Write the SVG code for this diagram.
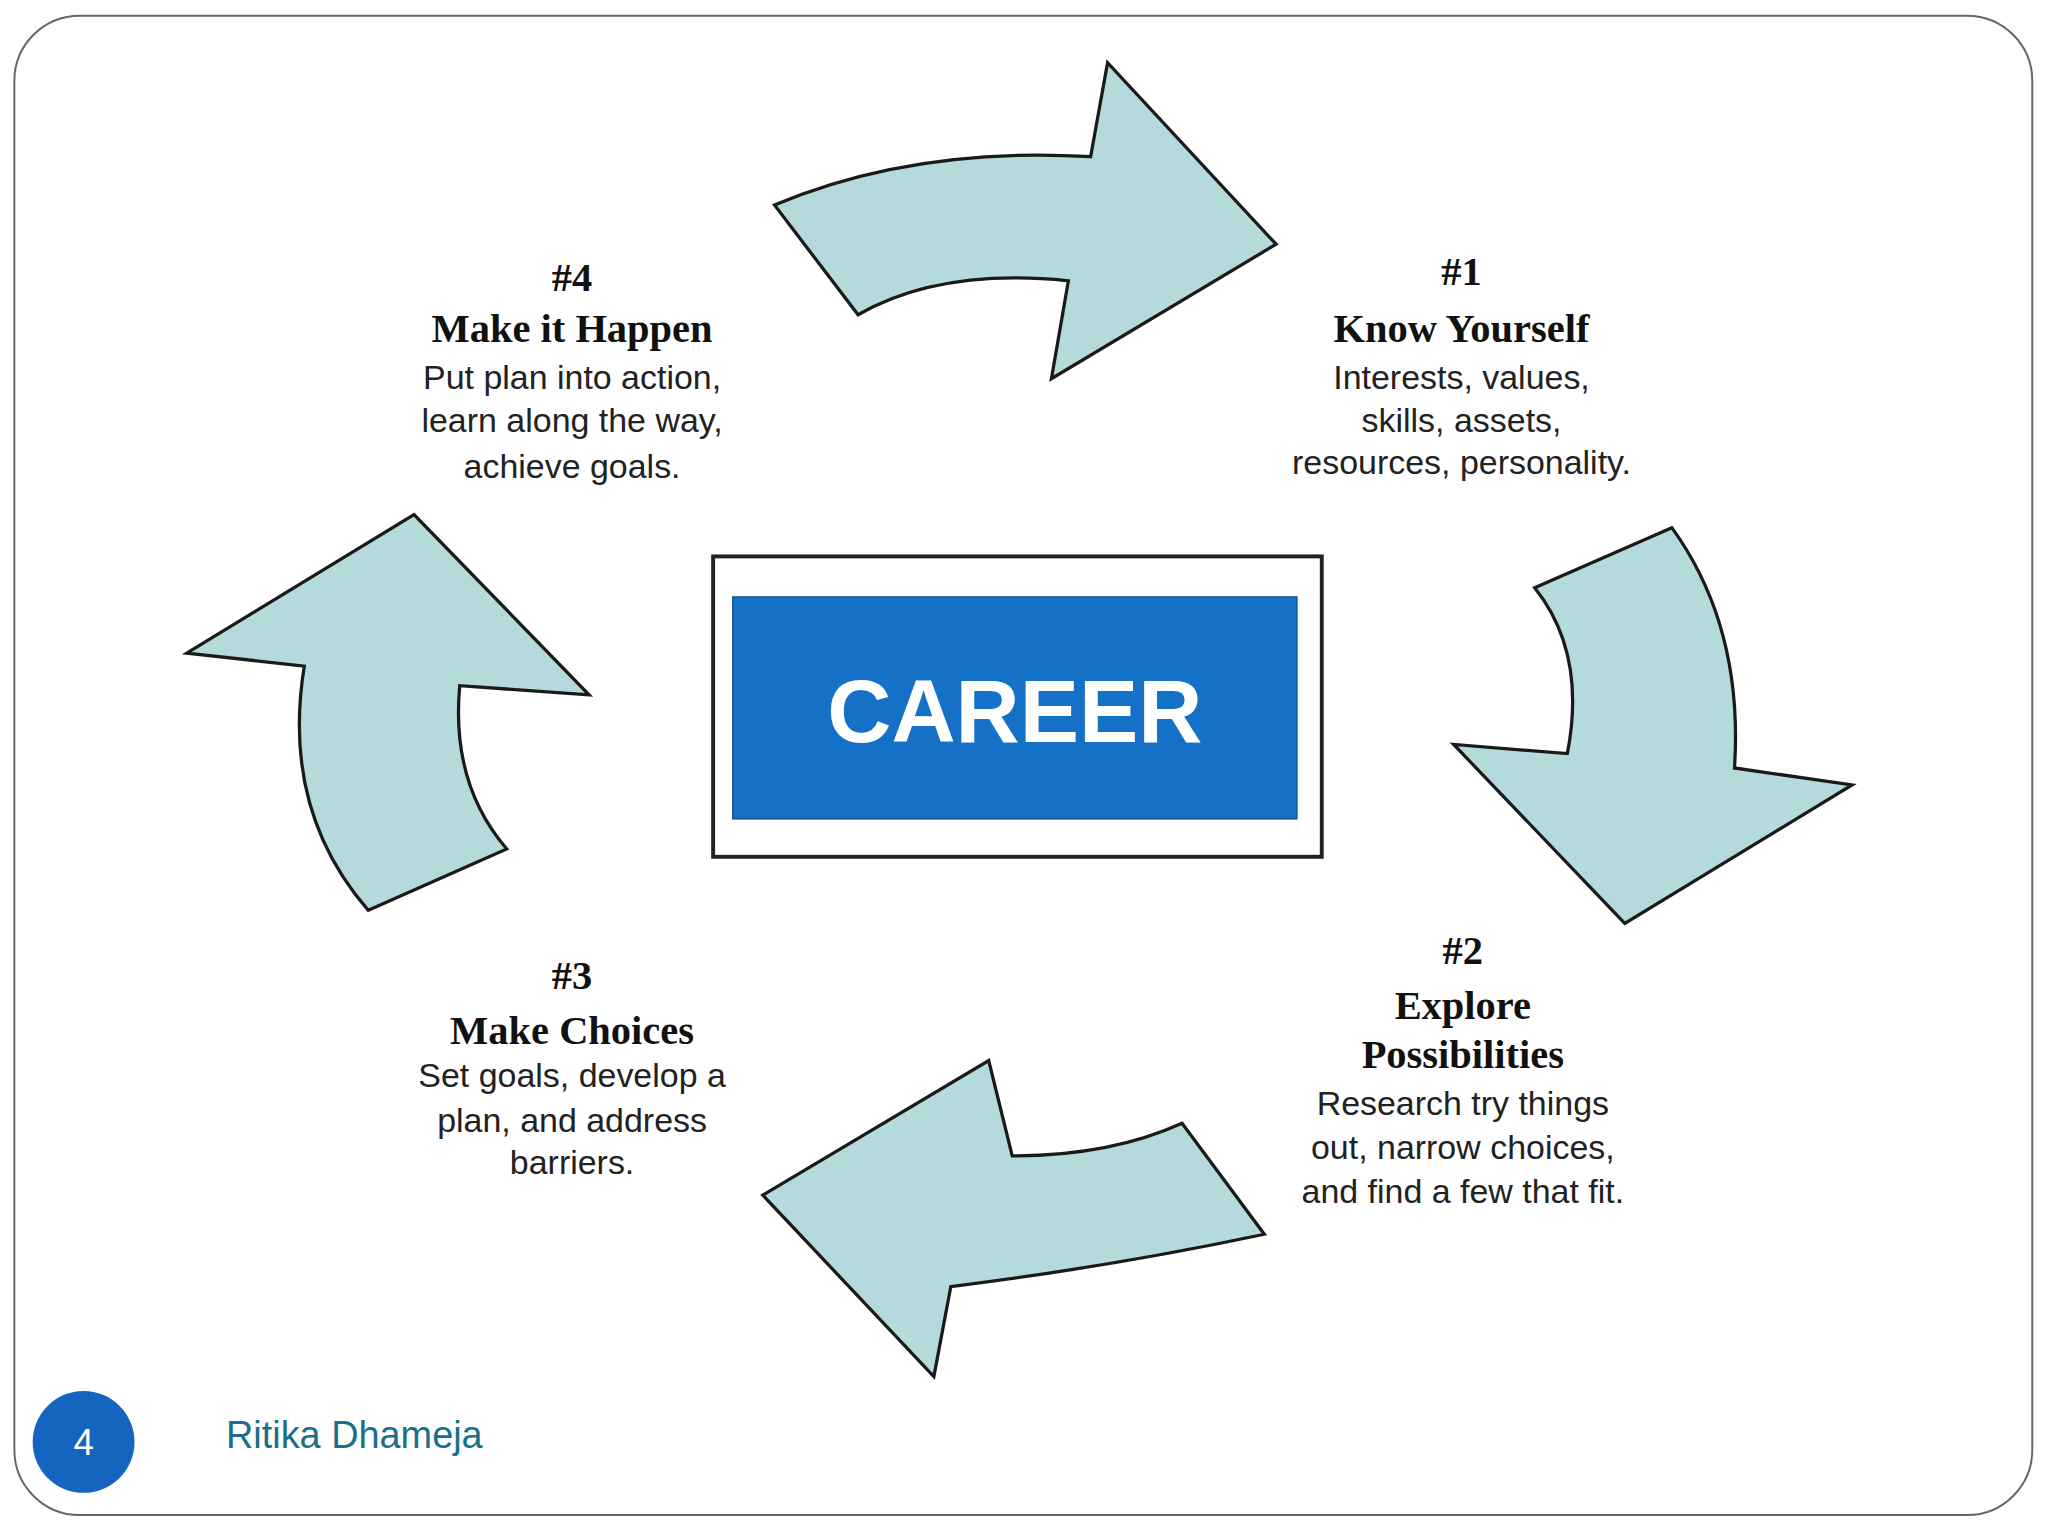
<svg xmlns="http://www.w3.org/2000/svg" width="2048" height="1536" viewBox="0 0 2048 1536">
<style>
.ar{fill:#b5dadc;stroke:#1a1a1a;stroke-width:2.5;stroke-linejoin:miter}
.h{font-family:"Liberation Serif",serif;font-weight:bold;font-size:31px;fill:#111;text-anchor:middle}
.b{font-family:"Liberation Sans",Arial,sans-serif;font-size:26px;fill:#222;text-anchor:middle}
</style>
<rect width="2048" height="1536" fill="#fff"/>
<g transform="scale(1.3061)">
<rect x="11" y="12" width="1545" height="1148" rx="50" fill="none" stroke="#666" stroke-width="1.5"/>
<g id="connectors">
<path class="ar" d="M593,157 Q700,112 835,120 L848,48 L977,187 L805,290 L818,215 Q720,205 657,241 Z"/>
<path class="ar" d="M1175,450 L1280,404 Q1335,480 1328,588 L1418,601 L1244,707 L1113,570 L1200,577 Q1215,500 1175,450 Z"/>
<path class="ar" d="M905,860 L968,945 Q850,970 728,985 L715,1054 L584,915 L757,812 L775,885 Q850,885 905,860 Z"/>
<path class="ar" d="M282,697 L388,650 Q345,600 352,525 L451,532 L317,394 L143,500 L233,510 Q215,620 282,697 Z"/>
</g>
<g id="career">
<rect x="546" y="426" width="466" height="230" fill="#fff" stroke="#222" stroke-width="3"/>
<rect x="561" y="457" width="432" height="170" fill="#1570c8" stroke="#0d4f8f" stroke-width="1"/>
<text x="777" y="568" text-anchor="middle" font-family="Liberation Sans,Arial,sans-serif" font-weight="bold" font-size="68" fill="#fff">CAREER</text>
</g>
<g id="step1">
<text class="h" x="1119" y="218">#1</text>
<text class="h" x="1119" y="262">Know Yourself</text>
<text class="b" x="1119" y="298">Interests, values,</text>
<text class="b" x="1119" y="331">skills, assets,</text>
<text class="b" x="1119" y="363">resources, personality.</text>
</g>
<g id="step2">
<text class="h" x="1120" y="738">#2</text>
<text class="h" x="1120" y="780">Explore</text>
<text class="h" x="1120" y="818">Possibilities</text>
<text class="b" x="1120" y="854">Research try things</text>
<text class="b" x="1120" y="887">out, narrow choices,</text>
<text class="b" x="1120" y="921">and find a few that fit.</text>
</g>
<g id="step3">
<text class="h" x="438" y="757">#3</text>
<text class="h" x="438" y="799">Make Choices</text>
<text class="b" x="438" y="832">Set goals, develop a</text>
<text class="b" x="438" y="867">plan, and address</text>
<text class="b" x="438" y="899">barriers.</text>
</g>
<g id="step4">
<text class="h" x="438" y="223">#4</text>
<text class="h" x="438" y="262">Make it Happen</text>
<text class="b" x="438" y="298">Put plan into action,</text>
<text class="b" x="438" y="331">learn along the way,</text>
<text class="b" x="438" y="366">achieve goals.</text>
</g>
<g id="footer">
<circle cx="64" cy="1104" r="39" fill="#1565c0"/>
<text x="64" y="1114" text-anchor="middle" font-family="Liberation Sans,Arial,sans-serif" font-size="28" fill="#fff">4</text>
<text x="173" y="1109" font-family="Liberation Sans,Arial,sans-serif" font-size="29" fill="#1a6f8a">Ritika Dhameja</text>
</g>
</g>
</svg>
